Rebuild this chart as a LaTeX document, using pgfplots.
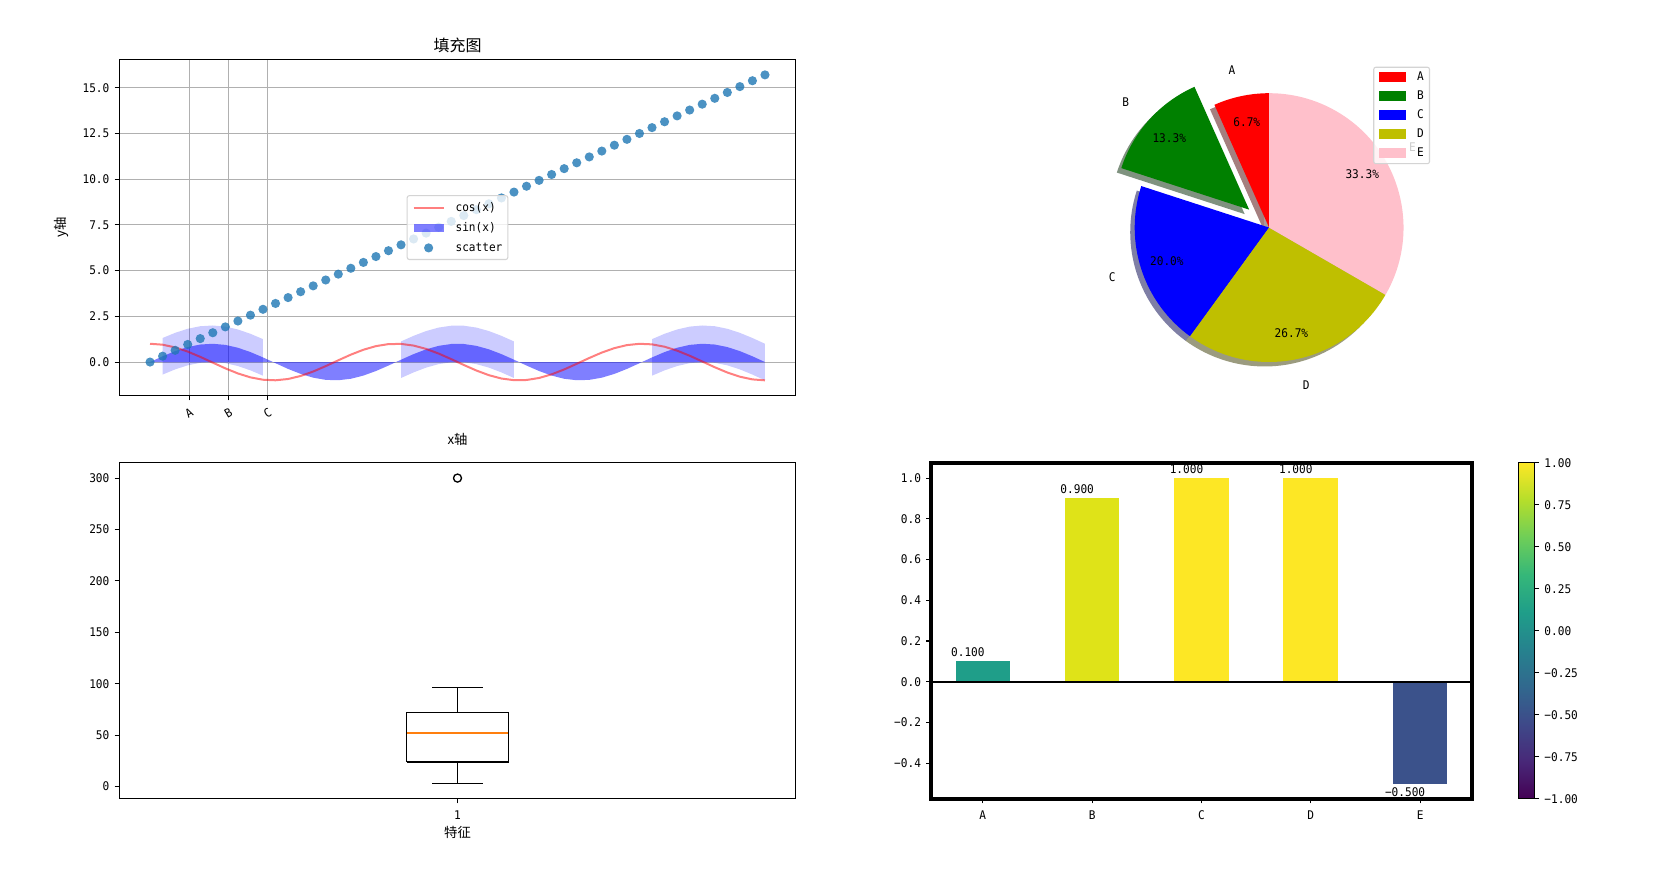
\documentclass[border=0pt]{standalone}
\usepackage{fontspec}
\setmainfont{DejaVu Sans Mono}[FakeStretch=0.93]
\newfontfamily\cjk{Noto Sans CJK SC}
\usepackage{pgfplots}
\pgfplotsset{compat=1.18}
\definecolor{mplblue}{HTML}{1F77B4}
\definecolor{mplorange}{HTML}{FF7F0E}
\definecolor{mplgrid}{HTML}{B0B0B0}
\definecolor{mplleg}{HTML}{D4D4D4}
\definecolor{pieG}{rgb}{0,0.5,0}
\definecolor{pieY}{rgb}{0.75,0.75,0}
\definecolor{piePink}{HTML}{FFC0CB}
\definecolor{shA}{rgb}{0.3,0,0}
\definecolor{shB}{rgb}{0,0.15,0}
\definecolor{shC}{rgb}{0,0,0.3}
\definecolor{shD}{rgb}{0.225,0.225,0}
\definecolor{shE}{rgb}{0.3,0.226,0.239}
\definecolor{vA}{HTML}{1F9E89}
\definecolor{vB}{HTML}{DFE318}
\definecolor{vC}{HTML}{FDE725}
\definecolor{vE}{HTML}{3B528B}
\newcommand{\tfont}{\fontsize{8.6bp}{10.3bp}\selectfont}
\newcommand{\zh}{\cjk\fontsize{9.6bp}{11.5bp}\selectfont}
\newcommand{\st}{\rule[-1.6bp]{0pt}{7.8bp}}
\pgfplotsset{
  colormap={myviridis}{rgb255=(68,1,84) rgb255=(72,40,120) rgb255=(62,73,137) rgb255=(49,104,142) rgb255=(38,130,142) rgb255=(31,158,137) rgb255=(53,183,121) rgb255=(110,206,88) rgb255=(181,222,43) rgb255=(253,231,37)},
  mplaxis/.style={
    scale only axis,
    tick align=outside,
    tick pos=left,
    major tick length=3.36bp,
    axis line style={line width=0.77bp},
    every tick/.style={black, line width=0.77bp},
    ticklabel style={font=\tfont, inner sep=0pt},
    xticklabel shift=5.3bp,
    yticklabel shift=3.6bp,
    label style={font=\zh},
  }
}
\begin{document}
\begin{tikzpicture}
\useasboundingbox (0,0) rectangle (1200.96bp,-632.16bp);
\fill[white] (0,0) rectangle (1200.96bp,-632.16bp);

% ---------------- top left: fill plot ----------------
\begin{axis}[mplaxis,
  at={(85.90bp,-42.91bp)}, anchor=north west,
  width=487.01bp, height=241.92bp,
  xmin=-0.7854, xmax=16.4934, ymin=-1.8354, ymax=16.5434,
  xtick={1,2,3}, xticklabels={A,B,C},
  xticklabel style={rotate=30, anchor=center},
  xticklabel shift=9.1bp,
  ytick={0,2.5,5,7.5,10,12.5,15},
  yticklabels={0.0,2.5,5.0,7.5,10.0,12.5,15.0},
  grid=major, major grid style={mplgrid, line width=0.77bp},
  title={填充图},
  every axis title/.style={at={(axis description cs:0.5,1.0435)}, anchor=center, font=\cjk\fontsize{11.52bp}{13.8bp}\selectfont},
  xlabel={x轴}, xlabel style={at={(axis description cs:0.5,-0.131)}, anchor=center},
  ylabel={y轴}, ylabel style={at={(axis description cs:-0.0853,0.5)}, anchor=center},
  legend style={at={(0.5,0.5)}, anchor=center, font=\tfont, draw=mplleg, line width=0.77bp,
    rounded corners=1.5bp, fill=white, fill opacity=0.8, draw opacity=1, text opacity=1,
    inner xsep=3.9bp, inner ysep=4.5bp, row sep=6.6bp, /tikz/column sep=7.9bp,
    cells={anchor=west}, nodes={inner sep=0pt}},
]
% band sin(x)-1 .. sin(x)+1 where sin(x)>0
\addplot[fill=blue, fill opacity=0.2, draw=none, forget plot] coordinates {
(0.3206,1.3151) (0.6411,1.5981) (0.9617,1.8202) (1.2823,1.9586) (1.6029,1.9995) (1.9234,1.9385) (2.2440,1.7818) (2.5646,1.5455) (2.8851,1.2537)
(2.8851,-0.7463) (2.5646,-0.4545) (2.2440,-0.2182) (1.9234,-0.0615) (1.6029,-0.0005) (1.2823,-0.0414) (0.9617,-0.1798) (0.6411,-0.4019) (0.3206,-0.6849)};
\addplot[fill=blue, fill opacity=0.2, draw=none, forget plot] coordinates {
(6.4114,1.1278) (6.7320,1.4339) (7.0525,1.6956) (7.3731,1.8866) (7.6937,1.9872) (8.0143,1.9872) (8.3348,1.8866) (8.6554,1.6956) (8.9760,1.4339) (9.2965,1.1278)
(9.2965,-0.8722) (8.9760,-0.5661) (8.6554,-0.3044) (8.3348,-0.1134) (8.0143,-0.0128) (7.6937,-0.0128) (7.3731,-0.1134) (7.0525,-0.3044) (6.7320,-0.5661) (6.4114,-0.8722)};
\addplot[fill=blue, fill opacity=0.2, draw=none, forget plot] coordinates {
(12.8228,1.2537) (13.1434,1.5455) (13.4639,1.7818) (13.7845,1.9385) (14.1051,1.9995) (14.4257,1.9586) (14.7462,1.8202) (15.0668,1.5981) (15.3874,1.3151) (15.7080,1.0000)
(15.7080,-1.0000) (15.3874,-0.6849) (15.0668,-0.4019) (14.7462,-0.1798) (14.4257,-0.0414) (14.1051,-0.0005) (13.7845,-0.0615) (13.4639,-0.2182) (13.1434,-0.4545) (12.8228,-0.7463)};
% sin(x) filled to 0
\addplot[fill=blue, fill opacity=0.5, draw=none, forget plot] coordinates {
(0,0) (0.3206,0.3151) (0.6411,0.5981) (0.9617,0.8202) (1.2823,0.9586) (1.6029,0.9995) (1.9234,0.9385) (2.2440,0.7818) (2.5646,0.5455) (2.8851,0.2537)
(3.2057,-0.0641) (3.5263,-0.3753) (3.8468,-0.6482) (4.1674,-0.8551) (4.4880,-0.9749) (4.8086,-0.9954) (5.1291,-0.9144) (5.4497,-0.7403) (5.7703,-0.4907) (6.0908,-0.1912)
(6.4114,0.1278) (6.7320,0.4339) (7.0525,0.6956) (7.3731,0.8866) (7.6937,0.9872) (8.0143,0.9872) (8.3348,0.8866) (8.6554,0.6956) (8.9760,0.4339) (9.2965,0.1278)
(9.6171,-0.1912) (9.9377,-0.4907) (10.2582,-0.7403) (10.5788,-0.9144) (10.8994,-0.9954) (11.2200,-0.9749) (11.5405,-0.8551) (11.8611,-0.6482) (12.1817,-0.3753) (12.5022,-0.0641)
(12.8228,0.2537) (13.1434,0.5455) (13.4639,0.7818) (13.7845,0.9385) (14.1051,0.9995) (14.4257,0.9586) (14.7462,0.8202) (15.0668,0.5981) (15.3874,0.3151) (15.7080,0)};
% cos(x)
\addplot[red, draw opacity=0.5, line width=1.44bp, forget plot] coordinates {
(0,1) (0.3206,0.9491) (0.6411,0.8014) (0.9617,0.5721) (1.2823,0.2845) (1.6029,-0.0321) (1.9234,-0.3453) (2.2440,-0.6235) (2.5646,-0.8381) (2.8851,-0.9673)
(3.2057,-0.9979) (3.5263,-0.9269) (3.8468,-0.7615) (4.1674,-0.5184) (4.4880,-0.2225) (4.8086,0.0961) (5.1291,0.4048) (5.4497,0.6723) (5.7703,0.8713) (6.0908,0.9815)
(6.4114,0.9918) (6.7320,0.9010) (7.0525,0.7184) (7.3731,0.4625) (7.6937,0.1596) (8.0143,-0.1596) (8.3348,-0.4625) (8.6554,-0.7184) (8.9760,-0.9010) (9.2965,-0.9918)
(9.6171,-0.9815) (9.9377,-0.8713) (10.2582,-0.6723) (10.5788,-0.4048) (10.8994,-0.0961) (11.2200,0.2225) (11.5405,0.5184) (11.8611,0.7615) (12.1817,0.9269) (12.5022,0.9979)
(12.8228,0.9673) (13.1434,0.8381) (13.4639,0.6235) (13.7845,0.3453) (14.1051,0.0321) (14.4257,-0.2845) (14.7462,-0.5721) (15.0668,-0.8014) (15.3874,-0.9491) (15.7080,-1)};
% scatter
\addplot[mplblue, only marks, mark=*, mark size=3.3bp, mark options={fill=mplblue, draw=mplblue, line width=0pt, fill opacity=0.8, draw opacity=0}, forget plot] coordinates {
(0,0) (0.3206,0.3206) (0.6411,0.6411) (0.9617,0.9617) (1.2823,1.2823) (1.6029,1.6029) (1.9234,1.9234) (2.2440,2.2440) (2.5646,2.5646) (2.8851,2.8851)
(3.2057,3.2057) (3.5263,3.5263) (3.8468,3.8468) (4.1674,4.1674) (4.4880,4.4880) (4.8086,4.8086) (5.1291,5.1291) (5.4497,5.4497) (5.7703,5.7703) (6.0908,6.0908)
(6.4114,6.4114) (6.7320,6.7320) (7.0525,7.0525) (7.3731,7.3731) (7.6937,7.6937) (8.0143,8.0143) (8.3348,8.3348) (8.6554,8.6554) (8.9760,8.9760) (9.2965,9.2965)
(9.6171,9.6171) (9.9377,9.9377) (10.2582,10.2582) (10.5788,10.5788) (10.8994,10.8994) (11.2200,11.2200) (11.5405,11.5405) (11.8611,11.8611) (12.1817,12.1817) (12.5022,12.5022)
(12.8228,12.8228) (13.1434,13.1434) (13.4639,13.4639) (13.7845,13.7845) (14.1051,14.1051) (14.4257,14.4257) (14.7462,14.7462) (15.0668,15.0668) (15.3874,15.3874) (15.7080,15.7080)};
\addlegendimage{legend image code/.code={\draw[sharp corners, red, draw opacity=0.5, line width=1.44bp] (0bp,0bp) -- (21.6bp,0bp);}}
\addlegendentry{\st cos(x)}
\addlegendimage{legend image code/.code={\path[draw=none, sharp corners, fill=blue, fill opacity=0.5] (0bp,-3bp) rectangle (21.6bp,3bp);}}
\addlegendentry{\st sin(x)}
\addlegendimage{legend image code/.code={\path[draw=none] (0bp,0bp) -- (21.6bp,0bp); \path[draw=none, fill=mplblue, fill opacity=0.8] (10.8bp,0bp) circle[radius=3.3bp];}}
\addlegendentry{\st scatter}
\end{axis}

% ---------------- top right: pie ----------------
\def\R{96.768bp}
\begin{axis}[
  at={(792.79bp,-42.91bp)}, anchor=north west,
  scale only axis, width=241.92bp, height=241.92bp,
  xmin=-1.25, xmax=1.25, ymin=-1.25, ymax=1.25,
  hide axis, clip=false,
  legend style={at={(0.9789,0.9789)}, anchor=north east, font=\tfont, draw=mplleg, line width=0.77bp,
    rounded corners=1.5bp, fill=white, fill opacity=0.8, draw opacity=1, text opacity=1,
    inner xsep=4bp, inner ysep=3.5bp, row sep=5.88bp, /tikz/column sep=7.9bp,
    cells={anchor=west}, nodes={inner sep=0pt}},
  legend image code/.code={\path[#1, draw=none, sharp corners, fill opacity=1] (0bp,-3.6bp) rectangle (19.4bp,3.6bp);},
]
% values 1,2,3,4,5 (total 15) -> 24, 48, 72, 96, 120 degrees, start angle 90
% shadows
\fill[shA, fill opacity=0.5] (axis cs:-0.0333,-0.0333) -- ++(90:\R) arc[start angle=90,end angle=114,radius=\R] -- cycle;
\fill[shB, fill opacity=0.5] (axis cs:-0.1819,0.1005) -- ++(114:\R) arc[start angle=114,end angle=162,radius=\R] -- cycle;
\fill[shC, fill opacity=0.5] (axis cs:-0.0333,-0.0333) -- ++(162:\R) arc[start angle=162,end angle=234,radius=\R] -- cycle;
\fill[shD, fill opacity=0.5] (axis cs:-0.0333,-0.0333) -- ++(234:\R) arc[start angle=234,end angle=330,radius=\R] -- cycle;
\fill[shE, fill opacity=0.5] (axis cs:-0.0333,-0.0333) -- ++(330:\R) arc[start angle=330,end angle=450,radius=\R] -- cycle;
% wedges
\fill[red] (axis cs:0,0) -- ++(90:\R) arc[start angle=90,end angle=114,radius=\R] -- cycle;
\fill[pieG] (axis cs:-0.1486,0.1338) -- ++(114:\R) arc[start angle=114,end angle=162,radius=\R] -- cycle;
\fill[blue] (axis cs:0,0) -- ++(162:\R) arc[start angle=162,end angle=234,radius=\R] -- cycle;
\fill[pieY] (axis cs:0,0) -- ++(234:\R) arc[start angle=234,end angle=330,radius=\R] -- cycle;
\fill[piePink] (axis cs:0,0) -- ++(330:\R) arc[start angle=330,end angle=450,radius=\R] -- cycle;
% labels
\node[anchor=east, inner sep=0pt, font=\tfont] at (axis cs:-0.2495,1.1738) {A};
\node[anchor=east, inner sep=0pt, font=\tfont] at (axis cs:-1.0404,0.9368) {B};
\node[anchor=east, inner sep=0pt, font=\tfont] at (axis cs:-1.1413,-0.3708) {C};
\node[anchor=west, inner sep=0pt, font=\tfont] at (axis cs:0.2495,-1.1738) {D};
\node[anchor=west, inner sep=0pt, font=\tfont] at (axis cs:1.0392,0.6) {E};
\node[inner sep=0pt, font=\tfont] at (axis cs:-0.1663,0.7825) {6.7\%};
\node[inner sep=0pt, font=\tfont] at (axis cs:-0.7431,0.6691) {13.3\%};
\node[inner sep=0pt, font=\tfont] at (axis cs:-0.7608,-0.2472) {20.0\%};
\node[inner sep=0pt, font=\tfont] at (axis cs:0.1663,-0.7825) {26.7\%};
\node[inner sep=0pt, font=\tfont] at (axis cs:0.6928,0.4) {33.3\%};
\addlegendimage{fill=red}\addlegendentry{\st A}
\addlegendimage{fill=pieG}\addlegendentry{\st B}
\addlegendimage{fill=blue}\addlegendentry{\st C}
\addlegendimage{fill=pieY}\addlegendentry{\st D}
\addlegendimage{fill=piePink}\addlegendentry{\st E}
\end{axis}

% ---------------- bottom left: box plot ----------------
\begin{axis}[mplaxis,
  at={(85.90bp,-333.22bp)}, anchor=north west,
  width=487.01bp, height=241.92bp,
  xmin=0.5, xmax=1.5, ymin=-11.85, ymax=314.85,
  xtick={1}, xticklabels={1},
  ytick={0,50,100,150,200,250,300},
  yticklabels={0,50,100,150,200,250,300},
  xlabel={特征}, xlabel style={at={(axis description cs:0.5,-0.101)}, anchor=center},
]
% box: lower whisker 3, Q1 24, median 52, Q3 72, upper whisker 96.5, outlier 300
\addplot[black, line width=0.96bp] coordinates {(0.925,24) (1.075,24) (1.075,72) (0.925,72) (0.925,24)};
\addplot[black, line width=0.96bp] coordinates {(1,24) (1,3)};
\addplot[black, line width=0.96bp] coordinates {(1,72) (1,96.5)};
\addplot[black, line width=0.96bp] coordinates {(0.9625,3) (1.0375,3)};
\addplot[black, line width=0.96bp] coordinates {(0.9625,96.5) (1.0375,96.5)};
\addplot[mplorange, line width=0.96bp] coordinates {(0.925,52) (1.075,52)};
\addplot[only marks, mark=o, mark size=2.9bp, mark options={black, line width=0.96bp, fill=none}] coordinates {(1,300)};
\end{axis}

% ---------------- bottom right: bars + colorbar ----------------
\begin{axis}[mplaxis,
  at={(670.25bp,-333.22bp)}, anchor=north west,
  width=389.59bp, height=241.92bp,
  xmin=-0.475, xmax=4.475, ymin=-0.575, ymax=1.075,
  axis line style={line width=3.1bp},
  xtick={0,1,2,3,4}, xticklabels={A,B,C,D,E},
  ytick={-0.4,-0.2,0,0.2,0.4,0.6,0.8,1.0},
  yticklabels={−0.4,−0.2,0.0,0.2,0.4,0.6,0.8,1.0},
  clip=false,
  colormap name=myviridis, point meta min=-1, point meta max=1,
  colorbar,
  colorbar style={at={(parent axis.north east)}, anchor=north west, xshift=24.98bp,
    scale only axis, width=11.52bp, height=241.92bp,
    axis line style={line width=0.77bp},
    tick align=outside, major tick length=3.36bp,
    every tick/.style={black, line width=0.77bp},
    xtick=\empty, ytick pos=right, yticklabel pos=right,
    ytick={-1,-0.75,-0.5,-0.25,0,0.25,0.5,0.75,1},
    yticklabels={−1.00,−0.75,−0.50,−0.25,0.00,0.25,0.50,0.75,1.00},
    yticklabel style={font=\tfont, inner sep=0pt, anchor=west},
    yticklabel shift=3.6bp},
]
\addplot[ybar, bar width=0.5, bar shift=0pt, fill=vA, draw=none] coordinates {(0,0.1)};
\addplot[ybar, bar width=0.5, bar shift=0pt, fill=vB, draw=none] coordinates {(1,0.9)};
\addplot[ybar, bar width=0.5, bar shift=0pt, fill=vC, draw=none] coordinates {(2,1.0)};
\addplot[ybar, bar width=0.5, bar shift=0pt, fill=vC, draw=none] coordinates {(3,1.0)};
\addplot[ybar, bar width=0.5, bar shift=0pt, fill=vE, draw=none] coordinates {(4,-0.5)};
\addplot[black, line width=1.44bp] coordinates {(-0.475,0) (4.475,0)};
\node[font=\tfont, anchor=south, inner sep=0pt, yshift=3bp] at (axis cs:-0.137,0.1) {0.100};
\node[font=\tfont, anchor=south, inner sep=0pt, yshift=3bp] at (axis cs:0.863,0.9) {0.900};
\node[font=\tfont, anchor=south, inner sep=0pt, yshift=3bp] at (axis cs:1.863,1.0) {1.000};
\node[font=\tfont, anchor=south, inner sep=0pt, yshift=3bp] at (axis cs:2.863,1.0) {1.000};
\node[font=\tfont, anchor=north, inner sep=0pt, yshift=-2.4bp] at (axis cs:3.863,-0.5) {−0.500};
\end{axis}
\end{tikzpicture}
\end{document}
